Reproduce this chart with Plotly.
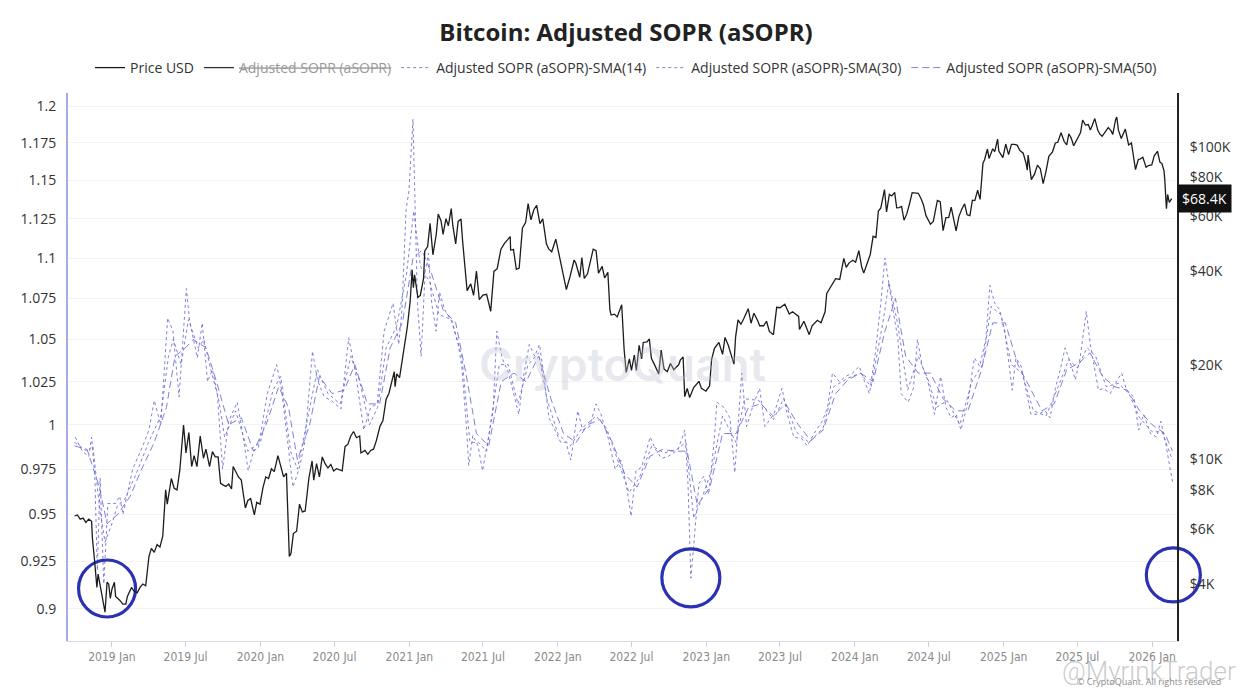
import numpy as np
import plotly.graph_objects as go

# BTC price (USD), one block per year
p2018_dates = ['2018-10-01', '2018-10-08', '2018-10-15', '2018-10-22', '2018-10-29', '2018-11-05', '2018-11-12',
               '2018-11-14', '2018-11-19', '2018-11-25', '2018-11-28', '2018-12-03', '2018-12-10', '2018-12-15',
               '2018-12-20', '2018-12-24', '2018-12-28']
p2018_usd = [6600, 6650, 6450, 6500, 6300, 6450, 6350, 5600, 4800, 3900, 4300, 3950, 3450, 3250, 4050, 4000, 3600]

p2019_dates = ['2019-01-01', '2019-01-07', '2019-01-10', '2019-01-20', '2019-01-28', '2019-02-04', '2019-02-08',
               '2019-02-18', '2019-02-24', '2019-03-04', '2019-03-11', '2019-03-18', '2019-03-25', '2019-04-02',
               '2019-04-08', '2019-04-15', '2019-04-22', '2019-04-29', '2019-05-06', '2019-05-13', '2019-05-17',
               '2019-05-27', '2019-06-03', '2019-06-10', '2019-06-17', '2019-06-26', '2019-07-02', '2019-07-09',
               '2019-07-16', '2019-07-22', '2019-07-29', '2019-08-06', '2019-08-14', '2019-08-20', '2019-08-29',
               '2019-09-05', '2019-09-12', '2019-09-19', '2019-09-25', '2019-10-01', '2019-10-08', '2019-10-15',
               '2019-10-22', '2019-10-26', '2019-11-01', '2019-11-08', '2019-11-15', '2019-11-22', '2019-11-25',
               '2019-12-01', '2019-12-08', '2019-12-17', '2019-12-23', '2019-12-31']
p2019_usd = [3850, 4050, 3650, 3550, 3450, 3450, 3650, 3900, 3800, 3750, 3900, 4000, 3950, 4900,
             5200, 5050, 5350, 5250, 5700, 8000, 7200, 8700, 8100, 8000, 9300, 12900, 10500, 12200,
             9500, 10300, 9500, 11900, 10100, 10800, 9500, 10600, 10200, 10200, 8400, 8300, 8200, 8350,
             8050, 9500, 9200, 8800, 8600, 7600, 7000, 7400, 7500, 6650, 7300, 7200]

p2020_dates = ['2020-01-07', '2020-01-14', '2020-01-21', '2020-01-28', '2020-02-04', '2020-02-13', '2020-02-20',
               '2020-02-27', '2020-03-05', '2020-03-12', '2020-03-16', '2020-03-22', '2020-03-30', '2020-04-06',
               '2020-04-13', '2020-04-20', '2020-04-29', '2020-05-07', '2020-05-11', '2020-05-18', '2020-05-25',
               '2020-06-01', '2020-06-08', '2020-06-15', '2020-06-22', '2020-06-29', '2020-07-06', '2020-07-13',
               '2020-07-20', '2020-07-27', '2020-08-03', '2020-08-10', '2020-08-17', '2020-08-24', '2020-09-01',
               '2020-09-04', '2020-09-14', '2020-09-21', '2020-09-28', '2020-10-05', '2020-10-12', '2020-10-21',
               '2020-10-28', '2020-11-05', '2020-11-12', '2020-11-19', '2020-11-25', '2020-11-27', '2020-12-01',
               '2020-12-08', '2020-12-16', '2020-12-22', '2020-12-27']
p2020_usd = [8100, 8800, 8700, 9350, 9150, 10300, 9600, 8800, 9050, 4900, 5000, 5800, 5900, 7200,
             6800, 6850, 8700, 9900, 8600, 9700, 8800, 10200, 9700, 9400, 9650, 9200, 9350, 9250,
             9200, 11000, 11200, 11900, 12300, 11750, 11900, 10500, 10700, 10400, 10700, 10800, 11500, 12800,
             13300, 15600, 16300, 17800, 19100, 17100, 18800, 18300, 21300, 23800, 26500]

p2021_dates = ['2021-01-03', '2021-01-08', '2021-01-11', '2021-01-14', '2021-01-22', '2021-01-28', '2021-02-05',
               '2021-02-08', '2021-02-15', '2021-02-21', '2021-02-28', '2021-03-08', '2021-03-13', '2021-03-20',
               '2021-03-25', '2021-04-01', '2021-04-07', '2021-04-14', '2021-04-18', '2021-04-25', '2021-05-01',
               '2021-05-08', '2021-05-12', '2021-05-19', '2021-05-23', '2021-06-01', '2021-06-08', '2021-06-15',
               '2021-06-22', '2021-07-01', '2021-07-10', '2021-07-20', '2021-07-28', '2021-08-05', '2021-08-14',
               '2021-08-22', '2021-09-06', '2021-09-07', '2021-09-14', '2021-09-21', '2021-09-28', '2021-10-06',
               '2021-10-14', '2021-10-20', '2021-10-27', '2021-11-03', '2021-11-10', '2021-11-18', '2021-11-25',
               '2021-12-04', '2021-12-10', '2021-12-17', '2021-12-27']
p2021_usd = [32000, 40500, 35500, 39000, 33000, 33500, 38000, 46500, 48000, 57000, 45200, 52300, 61000, 58000,
             52500, 59000, 56000, 63500, 56000, 49000, 57800, 58800, 50000, 38000, 34700, 36500, 33500, 40100,
             32500, 33600, 33800, 29800, 40000, 40800, 47000, 49000, 51700, 46800, 47000, 40600, 41000, 55000,
             57400, 65900, 58500, 63000, 65000, 56900, 58900, 49000, 47100, 46200, 50700]

p2022_dates = ['2022-01-01', '2022-01-10', '2022-01-22', '2022-01-31', '2022-02-10', '2022-02-14', '2022-02-24',
               '2022-03-01', '2022-03-07', '2022-03-15', '2022-03-29', '2022-04-05', '2022-04-11', '2022-04-20',
               '2022-04-26', '2022-05-04', '2022-05-09', '2022-05-12', '2022-05-20', '2022-05-27', '2022-06-01',
               '2022-06-07', '2022-06-13', '2022-06-18', '2022-06-26', '2022-07-01', '2022-07-08', '2022-07-13',
               '2022-07-20', '2022-07-26', '2022-07-30', '2022-08-08', '2022-08-14', '2022-08-19', '2022-08-26',
               '2022-09-06', '2022-09-12', '2022-09-19', '2022-09-27', '2022-10-05', '2022-10-13', '2022-10-25',
               '2022-10-29', '2022-11-05', '2022-11-09', '2022-11-15', '2022-11-21', '2022-12-01', '2022-12-14',
               '2022-12-20', '2022-12-31']
p2022_usd = [47300, 41800, 35000, 38500, 43500, 42600, 38300, 44300, 38000, 39300, 47100, 46600, 39500, 41500,
             38100, 39700, 30100, 29000, 29200, 28600, 29800, 31300, 22500, 19000, 21000, 19300, 21600, 19300,
             23200, 21000, 23700, 23800, 24300, 21100, 20200, 18800, 22400, 19500, 19100, 20300, 19400, 20100,
             20800, 21300, 15900, 16900, 15800, 17000, 17800, 16900, 16550]

p2023_dates = ['2023-01-09', '2023-01-14', '2023-01-21', '2023-02-01', '2023-02-10', '2023-02-16', '2023-02-24',
               '2023-03-10', '2023-03-14', '2023-03-20', '2023-03-27', '2023-04-03', '2023-04-14', '2023-04-21',
               '2023-04-28', '2023-05-08', '2023-05-12', '2023-05-22', '2023-05-29', '2023-06-05', '2023-06-15',
               '2023-06-23', '2023-07-01', '2023-07-13', '2023-07-24', '2023-08-01', '2023-08-16', '2023-08-18',
               '2023-08-29', '2023-09-11', '2023-09-18', '2023-10-01', '2023-10-10', '2023-10-20', '2023-10-24',
               '2023-11-01', '2023-11-09', '2023-11-15', '2023-11-25', '2023-12-05', '2023-12-11', '2023-12-18',
               '2023-12-27']
p2023_usd = [17200, 20900, 22700, 23700, 21700, 24600, 23200, 20200, 24700, 28000, 27100, 28200, 30400, 27300,
             29400, 27700, 26800, 26800, 27700, 25700, 25100, 30700, 30600, 31400, 29200, 29700, 28700, 26100,
             27700, 25100, 26800, 27900, 27400, 29700, 34000, 35400, 36700, 37900, 37700, 44000, 41200, 42600,
             43400]

p2024_dates = ['2024-01-03', '2024-01-11', '2024-01-18', '2024-01-23', '2024-02-01', '2024-02-08', '2024-02-15',
               '2024-02-22', '2024-02-28', '2024-03-05', '2024-03-14', '2024-03-19', '2024-03-26', '2024-04-01',
               '2024-04-08', '2024-04-13', '2024-04-19', '2024-04-25', '2024-05-01', '2024-05-08', '2024-05-15',
               '2024-05-21', '2024-06-05', '2024-06-12', '2024-06-18', '2024-06-24', '2024-07-05', '2024-07-12',
               '2024-07-22', '2024-07-29', '2024-08-05', '2024-08-12', '2024-08-19', '2024-08-25', '2024-09-06',
               '2024-09-13', '2024-09-20', '2024-09-27', '2024-10-03', '2024-10-10', '2024-10-16', '2024-10-22',
               '2024-10-29', '2024-11-04', '2024-11-11', '2024-11-15', '2024-11-22', '2024-11-26', '2024-12-05',
               '2024-12-10', '2024-12-17', '2024-12-20', '2024-12-30']
p2024_usd = [42800, 46600, 41300, 39500, 43100, 45300, 51800, 51300, 62400, 63800, 73100, 62000, 70500, 69700,
             71600, 63900, 64000, 64500, 58300, 61200, 66200, 71400, 71100, 68300, 65100, 60300, 56600, 57800,
             67500, 66800, 54000, 59400, 59500, 64200, 53900, 60000, 63200, 65800, 60700, 60300, 67600, 67400,
             72700, 68000, 88700, 91000, 98500, 91900, 98700, 96700, 106000, 97000, 92500]

p2025_dates = ['2025-01-06', '2025-01-13', '2025-01-20', '2025-01-27', '2025-02-03', '2025-02-10', '2025-02-18',
               '2025-02-25', '2025-02-28', '2025-03-02', '2025-03-10', '2025-03-18', '2025-03-25', '2025-04-01',
               '2025-04-08', '2025-04-15', '2025-04-22', '2025-05-01', '2025-05-08', '2025-05-14', '2025-05-22',
               '2025-05-30', '2025-06-05', '2025-06-10', '2025-06-16', '2025-06-22', '2025-07-01', '2025-07-09',
               '2025-07-14', '2025-07-21', '2025-07-28', '2025-08-02', '2025-08-07', '2025-08-13', '2025-08-20',
               '2025-08-25', '2025-08-31', '2025-09-08', '2025-09-15', '2025-09-22', '2025-09-26', '2025-10-03',
               '2025-10-06', '2025-10-10', '2025-10-17', '2025-10-27', '2025-11-04', '2025-11-11', '2025-11-17',
               '2025-11-21', '2025-11-28', '2025-12-02', '2025-12-09', '2025-12-17', '2025-12-24', '2025-12-31']
p2025_usd = [102200, 94500, 102000, 102000, 101400, 97400, 95500, 88700, 84300, 94200, 78600, 82000, 87500, 85200,
             76300, 83600, 93400, 96500, 103000, 103500, 111000, 103900, 101500, 110200, 106800, 100900, 105700,
             111300, 122000, 117500, 118000, 113300, 117500, 123300, 113500, 110100, 108200, 112000, 115300,
             112600, 109600, 122300, 124700, 113200, 106400, 114100, 101500, 103000, 92200, 84700, 91300, 91500,
             92700, 86200, 87400, 87600]

p2026_dates = ['2026-01-06', '2026-01-14', '2026-01-20', '2026-01-25', '2026-01-30', '2026-02-01', '2026-02-05',
               '2026-02-08', '2026-02-12', '2026-02-18']
p2026_usd = [93700, 96900, 89500, 88500, 84000, 78500, 63500, 70500, 66500, 68400]

price_blocks = [(p2018_dates, p2018_usd), (p2019_dates, p2019_usd), (p2020_dates, p2020_usd),
                (p2021_dates, p2021_usd), (p2022_dates, p2022_usd), (p2023_dates, p2023_usd),
                (p2024_dates, p2024_usd), (p2025_dates, p2025_usd), (p2026_dates, p2026_usd)]
price_dates, price_usd = [], []
for d, v in price_blocks:
    assert len(d) == len(v), d[0]
    price_dates += d
    price_usd += v

# aSOPR SMA(14)
sma14_dates = [
    '2018-10-03', '2018-10-20', '2018-11-05', '2018-11-12', '2018-11-20', '2018-11-26', '2018-12-03',
    '2018-12-12', '2018-12-22', '2019-01-10', '2019-01-20', '2019-01-28', '2019-02-21', '2019-03-18',
    '2019-04-02', '2019-04-15', '2019-05-01', '2019-05-18', '2019-05-31', '2019-06-15', '2019-07-03',
    '2019-07-11', '2019-07-30', '2019-08-11', '2019-08-24', '2019-09-05', '2019-09-17', '2019-09-30',
    '2019-10-15', '2019-11-05', '2019-11-17', '2019-12-02', '2019-12-15', '2019-12-27', '2020-01-18',
    '2020-02-10', '2020-02-22', '2020-03-09', '2020-03-21', '2020-04-05', '2020-04-19', '2020-05-08',
    '2020-05-20', '2020-06-06', '2020-06-23', '2020-07-17', '2020-08-05', '2020-08-22', '2020-09-11',
    '2020-09-28', '2020-10-14', '2020-10-31', '2020-11-22', '2020-12-06', '2020-12-14', '2020-12-24',
    '2020-12-31', '2021-01-10', '2021-01-15', '2021-01-21', '2021-01-30', '2021-02-09', '2021-02-17',
    '2021-02-25', '2021-03-08', '2021-03-16', '2021-03-29', '2021-04-15', '2021-05-01', '2021-05-10',
    '2021-05-22', '2021-05-27', '2021-06-06', '2021-06-19', '2021-06-30', '2021-07-13', '2021-07-26',
    '2021-08-04', '2021-08-17', '2021-09-02', '2021-09-15', '2021-09-27', '2021-10-10', '2021-10-23',
    '2021-11-05', '2021-11-17', '2021-11-27', '2021-12-10', '2021-12-25', '2022-01-08', '2022-01-21',
    '2022-02-02', '2022-02-19', '2022-03-03', '2022-03-20', '2022-04-05', '2022-04-17', '2022-05-04',
    '2022-05-22', '2022-06-05', '2022-06-18', '2022-06-30', '2022-07-12', '2022-07-26', '2022-08-16',
    '2022-08-29', '2022-09-13', '2022-09-29', '2022-10-24', '2022-11-09', '2022-11-17', '2022-11-24',
    '2022-12-02', '2022-12-14', '2022-12-26', '2023-01-07', '2023-01-20', '2023-01-27', '2023-02-13',
    '2023-02-28', '2023-03-12', '2023-03-29', '2023-04-10', '2023-04-27', '2023-05-12', '2023-05-25',
    '2023-06-16', '2023-07-06', '2023-07-19', '2023-08-04', '2023-08-24', '2023-09-06', '2023-09-23',
    '2023-10-13', '2023-10-26', '2023-11-07', '2023-11-24', '2023-12-09', '2023-12-26', '2024-01-12',
    '2024-01-25', '2024-02-06', '2024-02-21', '2024-03-05', '2024-03-15', '2024-03-27', '2024-04-04',
    '2024-04-16', '2024-04-24', '2024-05-11', '2024-05-24', '2024-06-03', '2024-06-15', '2024-06-28',
    '2024-07-15', '2024-07-30', '2024-08-12', '2024-08-25', '2024-09-06', '2024-09-18', '2024-10-05',
    '2024-10-21', '2024-11-03', '2024-11-18', '2024-11-28', '2024-12-10', '2024-12-22', '2025-01-04',
    '2025-01-14', '2025-01-22', '2025-01-31', '2025-02-13', '2025-02-25', '2025-03-09', '2025-03-26',
    '2025-04-13', '2025-04-25', '2025-05-08', '2025-05-20', '2025-06-01', '2025-06-14', '2025-06-26',
    '2025-07-08', '2025-07-16', '2025-07-23', '2025-08-02', '2025-08-14', '2025-08-22', '2025-09-03',
    '2025-09-20', '2025-10-05', '2025-10-18', '2025-10-30', '2025-11-17', '2025-11-29', '2025-12-11',
    '2025-12-28', '2026-01-12', '2026-01-22', '2026-02-03', '2026-02-15', '2026-02-20',
]
sma14 = [
    0.993, 0.985, 0.982, 0.993, 0.971, 0.920, 0.970,
    0.913, 0.956, 0.956, 0.960, 0.950, 0.975, 0.988,
    0.997, 1.014, 1.000, 1.063, 1.055, 1.016, 1.081,
    1.061, 1.039, 1.060, 1.025, 1.032, 1.018, 0.975,
    1.002, 1.013, 0.997, 0.974, 0.985, 0.987, 1.018,
    1.035, 1.020, 0.990, 0.965, 0.975, 0.990, 1.043,
    1.026, 1.016, 1.014, 1.009, 1.051, 1.030, 0.997,
    1.010, 1.012, 1.055, 1.072, 1.047, 1.068, 1.131,
    1.143, 1.191, 1.143, 1.072, 1.040, 1.092, 1.103,
    1.072, 1.055, 1.079, 1.068, 1.061, 1.047, 1.034,
    0.997, 0.977, 0.994, 0.988, 0.974, 0.991, 1.008,
    1.055, 1.039, 1.030, 1.018, 1.006, 1.030, 1.047,
    1.040, 1.047, 1.030, 1.004, 0.997, 0.990, 0.990,
    0.980, 1.008, 0.997, 0.999, 1.012, 1.006, 0.993,
    0.975, 0.980, 0.967, 0.949, 0.974, 0.976, 0.993,
    0.986, 0.981, 0.982, 0.986, 0.997, 0.967, 0.916,
    0.936, 0.967, 0.971, 0.961, 0.990, 1.013, 1.010,
    1.004, 0.973, 1.030, 0.999, 1.012, 1.021, 0.999,
    1.006, 1.021, 1.006, 0.993, 0.992, 0.988, 0.995,
    1.002, 1.010, 1.030, 1.025, 1.028, 1.030, 1.034,
    1.025, 1.018, 1.043, 1.072, 1.100, 1.079, 1.068,
    1.050, 1.018, 1.013, 1.021, 1.050, 1.034, 1.026,
    1.006, 1.028, 1.010, 1.004, 1.006, 0.997, 1.013,
    1.039, 1.034, 1.050, 1.083, 1.072, 1.068, 1.055,
    1.034, 1.020, 1.039, 1.034, 1.020, 1.006, 1.006,
    1.008, 1.004, 1.021, 1.032, 1.045, 1.036, 1.026,
    1.039, 1.055, 1.067, 1.047, 1.030, 1.020, 1.021,
    1.018, 1.025, 1.030, 1.020, 1.016, 0.997, 1.006,
    0.995, 0.993, 1.002, 0.990, 0.974, 0.968,
]

# aSOPR SMA(30)
sma30_dates = [
    '2018-10-01', '2018-11-01', '2018-11-15', '2018-12-01', '2018-12-15', '2019-01-01', '2019-01-15',
    '2019-02-01', '2019-03-01', '2019-04-01', '2019-05-01', '2019-05-20', '2019-06-01', '2019-06-20',
    '2019-07-08', '2019-08-01', '2019-08-15', '2019-09-01', '2019-09-20', '2019-10-05', '2019-11-01',
    '2019-12-01', '2020-01-01', '2020-02-01', '2020-02-20', '2020-03-15', '2020-04-01', '2020-05-01',
    '2020-05-20', '2020-06-15', '2020-07-15', '2020-08-10', '2020-09-01', '2020-09-25', '2020-10-15',
    '2020-11-05', '2020-12-01', '2020-12-25', '2021-01-12', '2021-01-28', '2021-02-20', '2021-03-15',
    '2021-04-15', '2021-05-10', '2021-05-30', '2021-06-20', '2021-07-10', '2021-08-10', '2021-09-01',
    '2021-09-25', '2021-10-20', '2021-11-15', '2021-12-05', '2022-01-01', '2022-02-01', '2022-03-01',
    '2022-04-05', '2022-05-01', '2022-06-01', '2022-06-25', '2022-07-20', '2022-08-20', '2022-09-20',
    '2022-10-20', '2022-11-12', '2022-12-01', '2022-12-20', '2023-01-15', '2023-02-10', '2023-03-15',
    '2023-04-05', '2023-05-10', '2023-06-15', '2023-07-10', '2023-08-10', '2023-09-10', '2023-10-15',
    '2023-11-10', '2023-12-15', '2024-01-15', '2024-02-10', '2024-03-10', '2024-03-25', '2024-04-15',
    '2024-05-10', '2024-06-05', '2024-07-01', '2024-07-20', '2024-08-15', '2024-09-15', '2024-10-15',
    '2024-11-10', '2024-12-01', '2024-12-25', '2025-01-20', '2025-02-15', '2025-03-15', '2025-04-15',
    '2025-05-15', '2025-06-10', '2025-07-01', '2025-07-25', '2025-08-15', '2025-09-10', '2025-10-10',
    '2025-11-05', '2025-12-01', '2026-01-01', '2026-01-25', '2026-02-20',
]
sma30 = [
    0.990, 0.985, 0.988, 0.955, 0.935, 0.945, 0.955,
    0.958, 0.972, 0.990, 1.005, 1.040, 1.050, 1.035,
    1.062, 1.045, 1.050, 1.032, 1.015, 0.993, 1.008,
    0.985, 0.990, 1.020, 1.028, 0.985, 0.975, 1.010,
    1.032, 1.018, 1.012, 1.040, 1.025, 1.000, 1.010,
    1.045, 1.058, 1.090, 1.130, 1.095, 1.085, 1.065,
    1.062, 1.040, 0.990, 0.990, 0.985, 1.035, 1.035,
    1.012, 1.035, 1.042, 1.015, 0.995, 0.988, 0.998,
    1.005, 0.998, 0.978, 0.962, 0.970, 0.988, 0.984,
    0.986, 0.990, 0.948, 0.958, 0.975, 1.005, 0.990,
    1.015, 1.014, 1.003, 1.015, 0.996, 0.990, 0.998,
    1.022, 1.027, 1.030, 1.022, 1.060, 1.085, 1.060,
    1.020, 1.040, 1.025, 1.010, 1.014, 1.000, 1.025,
    1.035, 1.070, 1.065, 1.035, 1.030, 1.008, 1.005,
    1.022, 1.038, 1.033, 1.045, 1.040, 1.022, 1.024,
    1.018, 1.004, 0.996, 0.996, 0.980,
]

# aSOPR SMA(50)
sma50_dates = [
    '2018-10-01', '2018-11-01', '2018-12-01', '2018-12-20', '2019-01-15', '2019-02-15', '2019-03-15',
    '2019-04-15', '2019-05-15', '2019-06-05', '2019-07-01', '2019-07-20', '2019-08-20', '2019-09-15',
    '2019-10-15', '2019-11-15', '2019-12-15', '2020-01-15', '2020-02-15', '2020-03-10', '2020-04-01',
    '2020-05-01', '2020-05-25', '2020-06-25', '2020-07-25', '2020-08-20', '2020-09-20', '2020-10-20',
    '2020-11-15', '2020-12-15', '2021-01-10', '2021-02-01', '2021-02-25', '2021-03-25', '2021-04-25',
    '2021-05-20', '2021-06-15', '2021-07-15', '2021-08-15', '2021-09-15', '2021-10-15', '2021-11-15',
    '2021-12-15', '2022-01-15', '2022-02-15', '2022-03-15', '2022-04-15', '2022-05-15', '2022-06-15',
    '2022-07-15', '2022-08-15', '2022-09-15', '2022-10-15', '2022-11-15', '2022-12-10', '2023-01-10',
    '2023-02-10', '2023-03-15', '2023-04-15', '2023-05-15', '2023-06-15', '2023-07-15', '2023-08-15',
    '2023-09-15', '2023-10-15', '2023-11-15', '2023-12-15', '2024-01-15', '2024-02-15', '2024-03-15',
    '2024-04-10', '2024-05-05', '2024-06-05', '2024-07-05', '2024-08-05', '2024-09-05', '2024-10-05',
    '2024-11-05', '2024-12-05', '2025-01-05', '2025-02-05', '2025-03-05', '2025-04-05', '2025-05-05',
    '2025-06-05', '2025-07-05', '2025-08-01', '2025-09-01', '2025-10-01', '2025-11-01', '2025-12-01',
    '2026-01-01', '2026-02-01', '2026-02-20',
]
sma50 = [
    0.988, 0.986, 0.965, 0.945, 0.950, 0.960, 0.975,
    0.990, 1.010, 1.040, 1.045, 1.050, 1.045, 1.025,
    1.000, 1.004, 0.985, 1.000, 1.022, 1.010, 0.980,
    1.000, 1.028, 1.018, 1.020, 1.035, 1.012, 1.012,
    1.045, 1.060, 1.100, 1.105, 1.090, 1.068, 1.060,
    1.030, 0.995, 0.988, 1.025, 1.030, 1.025, 1.040,
    1.015, 0.995, 0.990, 1.000, 1.003, 0.990, 0.972,
    0.965, 0.982, 0.986, 0.985, 0.985, 0.955, 0.965,
    0.995, 0.995, 1.010, 1.012, 1.005, 1.012, 1.000,
    0.991, 0.997, 1.018, 1.026, 1.030, 1.025, 1.055,
    1.075, 1.040, 1.030, 1.030, 1.015, 1.008, 1.008,
    1.030, 1.060, 1.060, 1.035, 1.022, 1.008, 1.012,
    1.032, 1.036, 1.042, 1.028, 1.022, 1.020, 1.008,
    1.000, 0.995, 0.985,
]

# hand-drawn markup: support level and the three circled lows
support_level = 0.915
circle_dates = ['2018-12-20', '2022-11-24', '2026-02-22']
circle_levels = [0.9106, 0.9162, 0.9177]
circle_sizes = [57, 58, 54]

left_ticks = [0.9, 0.925, 0.95, 0.975, 1.0, 1.025, 1.05, 1.075, 1.1, 1.125, 1.15, 1.175, 1.2]
left_labels = ['0.9', '0.925', '0.95', '0.975', '1', '1.025', '1.05', '1.075', '1.1', '1.125', '1.15', '1.175', '1.2']
right_ticks = [4000, 6000, 8000, 10000, 20000, 40000, 60000, 80000, 100000]
right_labels = ['$4K', '$6K', '$8K', '$10K', '$20K', '$40K', '$60K', '$80K', '$100K']

sma_color = 'rgba(105,105,215,0.85)'
font = 'Open Sans, Noto Sans, sans-serif'
W, H = 1236, 680  # page body keeps an 8px margin

fig = go.Figure()
fig.add_trace(go.Scatter(x=price_dates, y=price_usd, name='Price USD', yaxis='y2',
                         mode='lines', line=dict(color='#1c1c1c', width=1.3)))
fig.add_trace(go.Scatter(x=[None], y=[None], mode='lines',
                         name='<span style="color:#9a9a9a"><s>Adjusted SOPR (aSOPR)</s></span>',
                         line=dict(color='#333333', width=1.3)))
fig.add_trace(go.Scatter(x=sma14_dates, y=sma14, name='Adjusted SOPR (aSOPR)-SMA(14)',
                         mode='lines', line=dict(color=sma_color, width=1, dash='dot')))
fig.add_trace(go.Scatter(x=sma30_dates, y=sma30, name='Adjusted SOPR (aSOPR)-SMA(30)',
                         mode='lines', line=dict(color=sma_color, width=1, dash='3px,3px')))
fig.add_trace(go.Scatter(x=sma50_dates, y=sma50, name='Adjusted SOPR (aSOPR)-SMA(50)',
                         mode='lines', line=dict(color=sma_color, width=1, dash='7px,4px')))
fig.add_trace(go.Scatter(x=circle_dates, y=circle_levels, mode='markers', showlegend=False,
                         hoverinfo='skip', cliponaxis=False,
                         marker=dict(symbol='circle-open', size=circle_sizes, color='#2a31b3',
                                     opacity=1, line=dict(width=3.2, color='#2a31b3'))))

fig.add_shape(type='line', xref='paper', x0=0, x1=0.99, yref='y',
              y0=np.log10(1.0), y1=np.log10(1.0),
              line=dict(color='#c4c4c4', width=1, dash='4px,4px'))
fig.add_shape(type='line', xref='paper', x0=0, x1=1.006, yref='y',
              y0=np.log10(support_level), y1=np.log10(support_level),
              line=dict(color='#e0262b', width=3.5))

fig.add_annotation(xref='paper', x=1.0, xanchor='left', yref='y2', y=np.log10(price_usd[-1]),
                   text='$%.1fK' % (price_usd[-1] / 1000), showarrow=False,
                   bgcolor='#111111', borderpad=4, font=dict(color='white', size=14, family=font))
fig.add_annotation(xref='paper', x=0.5, yref='paper', y=0.505, text='CryptoQuant', showarrow=False,
                   font=dict(size=46, color='rgba(190,190,210,0.35)', family='Inter, sans-serif',
                             weight=600))
fig.add_annotation(xref='paper', x=0.975, xanchor='center', yref='paper', y=-0.055, yanchor='middle',
                   text='@MyrinkTrader', showarrow=False,
                   font=dict(size=26, color='rgba(150,150,150,0.5)', family='Roboto, sans-serif',
                             weight=300))
fig.add_annotation(xref='paper', x=0.975, xanchor='center', yref='paper', y=-0.074, yanchor='middle',
                   text='© CryptoQuant. All rights reserved', showarrow=False,
                   font=dict(size=9, color='#8a8a8a', family=font))

fig.update_layout(
    width=W, height=H,
    margin=dict(l=60, r=67, t=85, b=47, autoexpand=False),
    paper_bgcolor='white', plot_bgcolor='white',
    font=dict(family=font, color='#333333'),
    title=dict(text='<b>Bitcoin: Adjusted SOPR (aSOPR)</b>', x=0.5, xref='container',
               y=1 - 25 / H, yref='container', yanchor='middle',
               font=dict(size=24, color='#222222', family=font)),
    legend=dict(orientation='h', x=0.5, xanchor='center', xref='container',
                y=1 - 60 / H, yref='container', yanchor='middle',
                font=dict(size=14, color='#333333'), itemwidth=30),
    showlegend=True,
    xaxis=dict(type='date', range=['2018-09-15', '2026-03-03'], tick0='2019-01-01', dtick='M6',
               tickformat='%Y %b', showgrid=False, showline=True, linecolor='#dcdce8',
               ticks='outside', ticklen=5, tickcolor='#d0d0d8',
               tickfont=dict(size=12, color='#8a8a8a',
                             family='Liberation Sans Narrow, DejaVu Sans Condensed, sans-serif')),
    yaxis=dict(type='log', range=[-0.05371, 0.08241], tickvals=left_ticks, ticktext=left_labels,
               showgrid=True, gridcolor='#f3f3f3', zeroline=False, showline=True,
               linecolor='#a9a9e4', linewidth=2, ticks='outside', ticklen=7,
               tickcolor='rgba(0,0,0,0)', tickfont=dict(size=14, color='#333333')),
    yaxis2=dict(type='log', overlaying='y', side='right', range=[3.4197, 5.1727],
                tickvals=right_ticks, ticktext=right_labels, showgrid=False, showline=True,
                linecolor='#222222', linewidth=2, ticks='outside', ticklen=8, tickcolor='rgba(0,0,0,0)',
                tickfont=dict(size=14, color='#333333')),
)

fig.write_html('out.html')
